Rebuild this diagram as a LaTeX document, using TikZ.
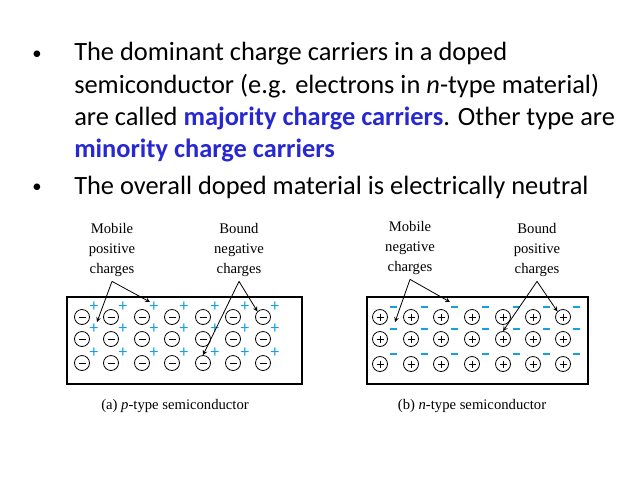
\documentclass[tikz,border=0pt]{standalone}
\usepackage{fontspec}
\setmainfont{Carlito}
\newfontfamily\figfont{Liberation Serif}
\definecolor{keyblue}{RGB}{40,40,210}
\definecolor{holecyan}{RGB}{20,160,225}
\begin{document}
\begin{tikzpicture}[x=0.75pt,y=-0.75pt,
    bullet/.style={anchor=north west, inner sep=0pt, font=\fontsize{19.8}{24.3}\selectfont, align=left},
    dot/.style={inner sep=0pt, font=\fontsize{14}{14}\selectfont},
    ion/.style={draw, circle, minimum size=15*0.75pt, inner sep=0pt, line width=0.6pt},
    label/.style={font=\figfont\fontsize{11}{15}\selectfont, align=center},
    caption/.style={font=\figfont\fontsize{11}{12}\selectfont},
    lead/.style={->, >=stealth, line width=0.6pt},
    crystal/.style={draw, line width=1.6pt}
]
    \useasboundingbox (0,0) rectangle (638,479);

    % Text bullets
    \node[dot] (b1) at (37,55) {\textbullet};
    \node[bullet] (t1) at (74,42) {The dominant charge carriers in a doped\\semiconductor (e.g. electrons in \textit{n}-type material)\\are called \textcolor{keyblue}{\textbf{majority charge carriers}}. Other type are\\\textcolor{keyblue}{\textbf{minority charge carriers}}};
    \node[dot] (b2) at (37,188) {\textbullet};
    \node[bullet] (t2) at (74,176) {The overall doped material is electrically neutral};

    % (a) p-type
    \node[crystal, minimum width=235*0.75pt, minimum height=87*0.75pt, inner sep=0pt] (pbox) at (184.5,340.5) {};
    \foreach \x [count=\i] in {82,111,142,172,203,233,263}
      \foreach \y [count=\j] in {317,339,363} {
        \node[ion] (p\i\j) at (\x,\y) {};
        \draw[line width=0.6pt] (\x-3.5,\y) -- (\x+3.5,\y);
        \node[text=holecyan, inner sep=0pt, font=\fontsize{13}{13}\selectfont] (h\i\j) at (\x+12,\y-10) {+};
      }
    \node[label] (pmob) at (112,250) {Mobile\\positive\\charges};
    \node[label] (pbnd) at (239,250) {Bound\\negative\\charges};
    \draw[lead] (pmob.south) -- (97,322);
    \draw[lead] (pmob.south) -- (150,302);
    \draw[lead] (pbnd.south) -- (p53.north);
    \draw[lead] (pbnd.south) -- (p71.north west);
    \node[caption] (pcap) at (175,406) {(a) \textit{p}-type semiconductor};

    % (b) n-type
    \node[crystal, minimum width=221*0.75pt, minimum height=87*0.75pt, inner sep=0pt] (nbox) at (477.5,340.5) {};
    \foreach \x [count=\i] in {380,411,441,472,503,533,563}
      \foreach \y [count=\j] in {317,339,364} {
        \node[ion] (n\i\j) at (\x,\y) {};
        \draw[line width=0.6pt] (\x-3.5,\y) -- (\x+3.5,\y) (\x,\y-3.5) -- (\x,\y+3.5);
        \draw[holecyan, line width=1.2pt] (\x+10,\y-10) -- (\x+17,\y-10);
      }
    \node[label] (nmob) at (410,248) {Mobile\\negative\\charges};
    \node[label] (nbnd) at (537,250) {Bound\\positive\\charges};
    \draw[lead] (nmob.south) -- (395,322);
    \draw[lead] (nmob.south) -- (450,302);
    \draw[lead] (nbnd.south) -- (n52.north);
    \draw[lead] (nbnd.south) -- (n71.north west);
    \node[caption] (ncap) at (472,406) {(b) \textit{n}-type semiconductor};
\end{tikzpicture}
\end{document}
